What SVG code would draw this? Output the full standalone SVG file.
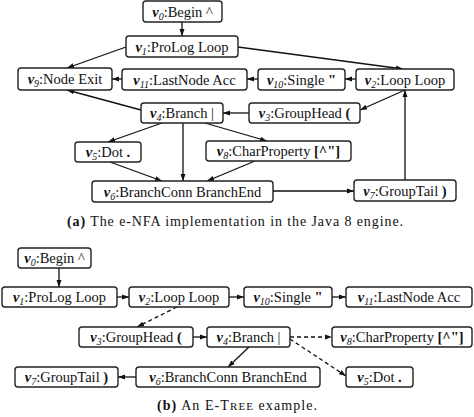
<svg xmlns="http://www.w3.org/2000/svg" width="474" height="417" viewBox="0 0 474 417">
<style>
.b{fill:#fff;stroke:#222;stroke-width:1.4}
.t{font-family:"Liberation Serif","Times New Roman",serif;font-size:14.5px;fill:#111;text-anchor:middle}
.v{font-weight:bold;font-style:italic}
.s{font-style:italic;font-size:10px}
.k{font-weight:bold}
.c line{stroke:#111;stroke-width:1.3;marker-end:url(#a)}
.c .d{stroke-dasharray:4 3}
.cap{font-family:"Liberation Serif","Times New Roman",serif;font-size:14px;fill:#111}
</style>
<defs>
<marker id="a" markerUnits="userSpaceOnUse" markerWidth="7" markerHeight="6" refX="7" refY="3" orient="auto">
<path d="M0,0.5 L7,3 L0,5.5z" fill="#111"/>
</marker>
</defs>
<g class="c" id="connectors">
<line x1="182" y1="22" x2="182" y2="36"/>
<line x1="126" y1="47" x2="67" y2="68"/>
<line x1="238" y1="47" x2="403" y2="69"/>
<line x1="122" y1="79" x2="112" y2="79"/>
<line x1="258" y1="79" x2="247" y2="79"/>
<line x1="356" y1="79" x2="345" y2="79"/>
<line x1="141" y1="110" x2="67" y2="90"/>
<line x1="249" y1="113" x2="223" y2="113"/>
<line x1="405" y1="90" x2="360" y2="110"/>
<line x1="405" y1="180" x2="405" y2="90"/>
<line x1="162" y1="123" x2="108" y2="142"/>
<line x1="183" y1="123" x2="183" y2="181"/>
<line x1="205" y1="123" x2="267" y2="141"/>
<line x1="110" y1="162" x2="162" y2="181"/>
<line x1="255" y1="161" x2="207" y2="181"/>
<line x1="273" y1="191" x2="354" y2="191"/>
<line x1="59" y1="268" x2="59" y2="287"/>
<line x1="117" y1="297" x2="129" y2="297"/>
<line x1="229" y1="297" x2="244" y2="297"/>
<line x1="332" y1="297" x2="346" y2="297"/>
<line class="d" x1="177" y1="307" x2="137" y2="327"/>
<line x1="193" y1="337" x2="207" y2="337"/>
<line class="d" x1="290" y1="337" x2="332" y2="337"/>
<line class="d" x1="290" y1="339" x2="346" y2="376"/>
<line x1="249" y1="347" x2="228" y2="367"/>
<line x1="136" y1="377" x2="118" y2="377"/>
</g>
<g id="a_v0"><rect class="b" x="143" y="1" width="79" height="21" rx="3"/><text class="t" x="182.5" y="16.5"><tspan class="v">v</tspan><tspan class="s" dy="3">0</tspan><tspan dy="-3">:Begin ^</tspan></text></g>
<g id="a_v1"><rect class="b" x="126" y="36" width="112" height="21" rx="3"/><text class="t" x="182" y="51.5"><tspan class="v">v</tspan><tspan class="s" dy="3">1</tspan><tspan dy="-3">:ProLog Loop</tspan></text></g>
<g id="a_v9"><rect class="b" x="18" y="68" width="94" height="22" rx="3"/><text class="t" x="65" y="84"><tspan class="v">v</tspan><tspan class="s" dy="3">9</tspan><tspan dy="-3">:Node Exit</tspan></text></g>
<g id="a_v11"><rect class="b" x="122" y="69" width="125" height="21" rx="3"/><text class="t" x="184.5" y="84.5"><tspan class="v">v</tspan><tspan class="s" dy="3">11</tspan><tspan dy="-3">:LastNode Acc</tspan></text></g>
<g id="a_v10"><rect class="b" x="258" y="69" width="87" height="21" rx="3"/><text class="t" x="301.5" y="84.5"><tspan class="v">v</tspan><tspan class="s" dy="3">10</tspan><tspan dy="-3">:Single </tspan><tspan class="k">"</tspan></text></g>
<g id="a_v2"><rect class="b" x="356" y="69" width="98" height="21" rx="3"/><text class="t" x="405" y="84.5"><tspan class="v">v</tspan><tspan class="s" dy="3">2</tspan><tspan dy="-3">:Loop Loop</tspan></text></g>
<g id="a_v4"><rect class="b" x="141" y="103" width="82" height="20" rx="3"/><text class="t" x="182" y="118"><tspan class="v">v</tspan><tspan class="s" dy="3">4</tspan><tspan dy="-3">:Branch |</tspan></text></g>
<g id="a_v3"><rect class="b" x="249" y="103" width="111" height="20" rx="3"/><text class="t" x="304.5" y="118"><tspan class="v">v</tspan><tspan class="s" dy="3">3</tspan><tspan dy="-3">:GroupHead </tspan><tspan class="k">(</tspan></text></g>
<g id="a_v5"><rect class="b" x="75" y="142" width="66" height="20" rx="3"/><text class="t" x="108" y="157"><tspan class="v">v</tspan><tspan class="s" dy="3">5</tspan><tspan dy="-3">:Dot </tspan><tspan class="k">.</tspan></text></g>
<g id="a_v8"><rect class="b" x="206" y="141" width="145" height="20" rx="3"/><text class="t" x="278.5" y="156"><tspan class="v">v</tspan><tspan class="s" dy="3">8</tspan><tspan dy="-3">:CharProperty </tspan><tspan class="k">[^"]</tspan></text></g>
<g id="a_v6"><rect class="b" x="92" y="181" width="181" height="21" rx="3"/><text class="t" x="182.5" y="196.5"><tspan class="v">v</tspan><tspan class="s" dy="3">6</tspan><tspan dy="-3">:BranchConn BranchEnd</tspan></text></g>
<g id="a_v7"><rect class="b" x="354" y="180" width="102" height="21" rx="3"/><text class="t" x="405" y="195.5"><tspan class="v">v</tspan><tspan class="s" dy="3">7</tspan><tspan dy="-3">:GroupTail </tspan><tspan class="k">)</tspan></text></g>
<text class="cap" x="67" y="226" textLength="336" lengthAdjust="spacing"><tspan class="k">(a)</tspan> The e-NFA implementation in the Java 8 engine.</text>
<g id="b_v0"><rect class="b" x="18" y="248" width="73" height="20" rx="3"/><text class="t" x="54.5" y="263"><tspan class="v">v</tspan><tspan class="s" dy="3">0</tspan><tspan dy="-3">:Begin ^</tspan></text></g>
<g id="b_v1"><rect class="b" x="2" y="287" width="115" height="20" rx="3"/><text class="t" x="59.5" y="302"><tspan class="v">v</tspan><tspan class="s" dy="3">1</tspan><tspan dy="-3">:ProLog Loop</tspan></text></g>
<g id="b_v2"><rect class="b" x="129" y="287" width="100" height="20" rx="3"/><text class="t" x="179" y="302"><tspan class="v">v</tspan><tspan class="s" dy="3">2</tspan><tspan dy="-3">:Loop Loop</tspan></text></g>
<g id="b_v10"><rect class="b" x="244" y="287" width="88" height="20" rx="3"/><text class="t" x="288" y="302"><tspan class="v">v</tspan><tspan class="s" dy="3">10</tspan><tspan dy="-3">:Single </tspan><tspan class="k">"</tspan></text></g>
<g id="b_v11"><rect class="b" x="346" y="287" width="126" height="20" rx="3"/><text class="t" x="409" y="302"><tspan class="v">v</tspan><tspan class="s" dy="3">11</tspan><tspan dy="-3">:LastNode Acc</tspan></text></g>
<g id="b_v3"><rect class="b" x="79" y="327" width="114" height="20" rx="3"/><text class="t" x="136" y="342"><tspan class="v">v</tspan><tspan class="s" dy="3">3</tspan><tspan dy="-3">:GroupHead </tspan><tspan class="k">(</tspan></text></g>
<g id="b_v4"><rect class="b" x="207" y="327" width="83" height="20" rx="3"/><text class="t" x="248.5" y="342"><tspan class="v">v</tspan><tspan class="s" dy="3">4</tspan><tspan dy="-3">:Branch |</tspan></text></g>
<g id="b_v8"><rect class="b" x="332" y="327" width="140" height="20" rx="3"/><text class="t" x="402" y="342"><tspan class="v">v</tspan><tspan class="s" dy="3">8</tspan><tspan dy="-3">:CharProperty </tspan><tspan class="k">[^"]</tspan></text></g>
<g id="b_v7"><rect class="b" x="15" y="367" width="103" height="20" rx="3"/><text class="t" x="66.5" y="382"><tspan class="v">v</tspan><tspan class="s" dy="3">7</tspan><tspan dy="-3">:GroupTail </tspan><tspan class="k">)</tspan></text></g>
<g id="b_v6"><rect class="b" x="136" y="367" width="184" height="20" rx="3"/><text class="t" x="228" y="382"><tspan class="v">v</tspan><tspan class="s" dy="3">6</tspan><tspan dy="-3">:BranchConn BranchEnd</tspan></text></g>
<g id="b_v5"><rect class="b" x="346" y="367" width="67" height="20" rx="3"/><text class="t" x="379.5" y="382"><tspan class="v">v</tspan><tspan class="s" dy="3">5</tspan><tspan dy="-3">:Dot </tspan><tspan class="k">.</tspan></text></g>
<text class="cap" x="157" y="410" textLength="160" lengthAdjust="spacing"><tspan class="k">(b)</tspan> An E-T<tspan font-size="11">REE</tspan> example.</text>
</svg>
